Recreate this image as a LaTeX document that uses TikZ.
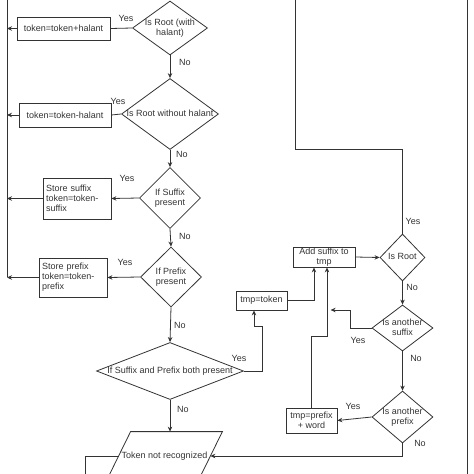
\documentclass[tikz,border=0pt]{standalone}
\usepackage{fontspec}
\setmainfont{Liberation Sans}
\usetikzlibrary{shapes.geometric,arrows.meta}
\newcommand{\dtxt}[1]{\makebox[0pt]{\begin{tabular}{@{}c@{}}#1\end{tabular}}}

\begin{document}
\begin{tikzpicture}[x=1pt, y=-1pt, line width=0.8pt, color=black!80,
	every node/.style={font=\fontsize{9}{10}\selectfont},
	box/.style 2 args={rectangle, draw, inner sep=0pt, align=center, minimum width=#1pt, minimum height=#2pt},
	dec/.style 2 args={diamond, draw, inner sep=0pt, minimum width=#1pt, minimum height=#2pt},
	>={Stealth[length=5pt,width=4.5pt]}]

\useasboundingbox (0,0) rectangle (474,474);
\clip (0,0) rectangle (474,474);

% left column
\node[dec={75}{54}] (d1) at (170,28) {\dtxt{Is Root (with\\halant)}};
\node[dec={97}{71}] (d2) at (170,114) {\dtxt{Is Root without halant}};
\node[dec={61}{61}] (d3) at (170,198) {\dtxt{If Suffix\\present}};
\node[dec={61}{60}] (d4) at (171,277) {\dtxt{If Prefix\\present}};
\node[dec={147}{57}] (d5) at (170,371) {\dtxt{If Suffix and Prefix both present}};

\node[box={93}{23}] (b1) at (63.5,28.5) {token=token+halant};
\node[box={92}{24}] (b2) at (65,115) {token=token-halant};
\node[box={68}{41}, text width=62pt, align=left] (b3) at (77,198.5) {Store suffix\\token=token-\\suffix};
\node[box={68}{39}, text width=62pt, align=left] (b4) at (73,277.5) {Store prefix\\token=token-\\prefix};

% slanted box
\node[inner sep=0pt, minimum width=115pt, minimum height=48pt] (tnr) at (164.5,456) {Token not recognized};
\draw ([xshift=24pt]tnr.north west) -- (tnr.north east) -- ([xshift=-24pt]tnr.south east) -- (tnr.south west) -- cycle;

% right column
\node[box={51}{19}] (tt) at (261.5,300.5) {tmp=token};
\node[box={62}{20}] (as) at (324,257) {Add suffix to\\tmp};
\node[dec={45}{47}] (r1) at (402.5,257.5) {\dtxt{Is Root}};
\node[dec={61}{46}] (r2) at (402.5,328) {\dtxt{Is another\\suffix}};
\node[dec={61}{52}] (r3) at (402.5,417) {\dtxt{Is another\\prefix}};
\node[box={51}{25}] (tp) at (311.5,420.5) {tmp=prefix\\+ word};

\coordinate (L) at (7,-10);
\coordinate (Lb) at (7,277);
\coordinate (M) at (295,-10);
\coordinate (Mb) at (295,149);
\coordinate (R) at (467,-10);
\coordinate (Rb) at (467,484);
\coordinate (B) at (85,484);

\draw (L) -- (Lb);
\draw (M) -- (Mb) -| (r1.north);
\draw (R) -- (Rb);

\foreach \u \v in {d1/b1, d2/b2}{
	\draw (\u.west) -- (\v.east);
}
\foreach \u \v in {d3/b3, d4/b4, r3/tp}{
	\draw[->] (\u.west) -- (\v.east);
}
\foreach \u in {b1,b2,b3,b4}{
	\draw[->] (\u.west) -- (\u.west -| L);
}
\foreach \u \v in {d1/d2, d2/d3, d3/d4, d4/d5, r1/r2, r2/r3}{
	\draw[->] (\u.south) -- (\v.north);
}

\draw[->] (as.east) -- (r1.west);
\draw[->] (d5.south) -- (d5.south |- tnr.north);
\draw[->] (d5.east) -| (262,326) -| ([xshift=-7.5pt]tt.south);
\draw[->] (tt.east) -| ([xshift=-10pt]as.south);
\draw[->] (tp.north) -- ++(0,-71) -| ([xshift=3pt]as.south);
\draw[->] (r2.west) -| ++(-21,-18) -- ++(-20,0);
\draw[->] (r3.south) |- ([xshift=-12pt]tnr.east);
\draw ([xshift=12pt]tnr.west) -| (B);

\foreach [count=\i] \t/\x/\y in {
	Yes/126/18, No/185/62
	,Yes/118/101, No/182/154
	,Yes/127/178, No/185/236
	,Yes/125/262, No/180/325
	,Yes/239/358, No/183/409
	,Yes/413/221, No/412/287
	,Yes/358/340, No/416/358
	,Yes/353/406, No/420/443
}{
	\node (lab\i) at (\x,\y) {\t};
}

\end{tikzpicture}
\end{document}
